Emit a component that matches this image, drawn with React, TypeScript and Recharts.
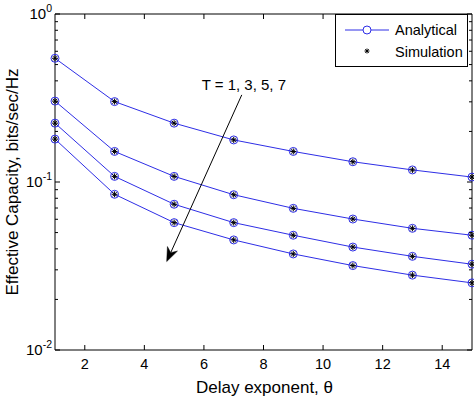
import React from 'react';
import {
  LineChart, Line, XAxis, YAxis, Legend, ReferenceLine, ReferenceDot,
} from 'recharts';

// ---- data ----
const THETA = [1, 3, 5, 7, 9, 11, 13, 15];
const ANALYTICAL_T1 = [0.545, 0.301, 0.224, 0.178, 0.152, 0.132, 0.118, 0.107];
const ANALYTICAL_T3 = [0.303, 0.152, 0.108, 0.084, 0.0697, 0.0602, 0.053, 0.0482];
const ANALYTICAL_T5 = [0.224, 0.108, 0.0737, 0.0573, 0.0482, 0.041, 0.0361, 0.0324];
const ANALYTICAL_T7 = [0.18, 0.0845, 0.0573, 0.0452, 0.0373, 0.0318, 0.0279, 0.0251];
const SIMULATION_T1 = [0.545, 0.301, 0.224, 0.178, 0.152, 0.132, 0.118, 0.107];
const SIMULATION_T3 = [0.303, 0.152, 0.108, 0.084, 0.0697, 0.0602, 0.053, 0.0482];
const SIMULATION_T5 = [0.224, 0.108, 0.0737, 0.0573, 0.0482, 0.041, 0.0361, 0.0324];
const SIMULATION_T7 = [0.18, 0.0845, 0.0573, 0.0452, 0.0373, 0.0318, 0.0279, 0.0251];

const X_TICKS = [2, 4, 6, 8, 10, 12, 14];
const Y_MAJOR = [0.01, 0.1, 1];
const Y_MAJOR_LABELS = ['-2', '-1', '0'];
const Y_MINOR = [0.02, 0.03, 0.04, 0.05, 0.06, 0.07, 0.08, 0.09, 0.2, 0.3, 0.4, 0.5, 0.6, 0.7, 0.8, 0.9];
const Y_TICKS = [...Y_MAJOR, ...Y_MINOR].sort((a, b) => a - b);

const ARROW = [{ x: 7.27, y: 0.33 }, { x: 4.75, y: 0.0336 }];
const ANNOTATION = { x: 7.34, y: 0.378, text: 'T = 1, 3, 5, 7' };

const data = THETA.map((t, i) => ({
  theta: t,
  a1: ANALYTICAL_T1[i], a3: ANALYTICAL_T3[i], a5: ANALYTICAL_T5[i], a7: ANALYTICAL_T7[i],
  s1: SIMULATION_T1[i], s3: SIMULATION_T3[i], s5: SIMULATION_T5[i], s7: SIMULATION_T7[i],
}));

const FONT = '"Liberation Sans", Arial, Helvetica, sans-serif';
const BLUE = '#2e2ee6';

const isMajor = (v: number) => Y_MAJOR.some((m) => Math.abs(m - v) < 1e-9);

const Asterisk = ({ cx, cy, r = 3 }: { cx: number; cy: number; r?: number }) => {
  const d = r * 0.7071;
  return (
    <g stroke="#000" strokeWidth={1}>
      <line x1={cx - r} y1={cy} x2={cx + r} y2={cy} />
      <line x1={cx} y1={cy - r} x2={cx} y2={cy + r} />
      <line x1={cx - d} y1={cy - d} x2={cx + d} y2={cy + d} />
      <line x1={cx - d} y1={cy + d} x2={cx + d} y2={cy - d} />
    </g>
  );
};

const circleDot = (p: any) => {
  if (p.cx == null || p.cy == null) return <g key={p.key} />;
  return <circle key={p.key} cx={p.cx} cy={p.cy} r={4} fill="none" stroke={BLUE} strokeWidth={1} />;
};
const starDot = (p: any) => {
  if (p.cx == null || p.cy == null) return <g key={p.key} />;
  return <g key={p.key}><Asterisk cx={p.cx} cy={p.cy} r={3} /></g>;
};

const LeftTick = (p: any) => {
  const { x, y, payload } = p;
  const major = isMajor(payload.value);
  const idx = Y_MAJOR.findIndex((m) => Math.abs(m - payload.value) < 1e-9);
  return (
    <g>
      <line x1={x} y1={y} x2={x + (major ? 5 : 3)} y2={y} stroke="#000" strokeWidth={1} />
      {major && (
        <text x={x - 3} y={y} dy="0.35em" textAnchor="end" fontFamily={FONT} fontSize={15} fill="#000">
          <tspan>10</tspan>
          <tspan dy={-7} fontSize={10.5}>{Y_MAJOR_LABELS[idx]}</tspan>
        </text>
      )}
    </g>
  );
};

const RightTick = (p: any) => {
  const { x, y, payload } = p;
  const major = isMajor(payload.value);
  return <line x1={x} y1={y} x2={x - (major ? 5 : 3)} y2={y} stroke="#000" strokeWidth={1} />;
};

const BottomTick = (p: any) => {
  const { x, y, payload } = p;
  return (
    <g>
      <line x1={x} y1={y} x2={x} y2={y - 5} stroke="#000" strokeWidth={1} />
      <text x={x} y={y + 19} textAnchor="middle" fontFamily={FONT} fontSize={14.5} fill="#000">
        {payload.value}
      </text>
    </g>
  );
};

const TopTick = (p: any) => {
  const { x, y } = p;
  return <line x1={x} y1={y} x2={x} y2={y + 5} stroke="#000" strokeWidth={1} />;
};

const YLabel = (p: any) => {
  const vb = p.viewBox || { x: 0, y: 14, width: 55, height: 336 };
  const cx = vb.x + 12;
  const cy = vb.y + vb.height / 2;
  return (
    <text x={cx} y={cy} dy="0.35em" textAnchor="middle" transform={`rotate(-90 ${cx} ${cy})`}
      fontFamily={FONT} fontSize={17} fill="#000">
      Effective Capacity, bits/sec/Hz
    </text>
  );
};

const XLabel = (p: any) => {
  const vb = p.viewBox || { x: 55, y: 350, width: 417, height: 49 };
  return (
    <text x={vb.x + vb.width / 2 + 1} y={vb.y + 43} textAnchor="middle" fontFamily={FONT} fontSize={17} fill="#000">
      Delay exponent, θ
    </text>
  );
};

const ArrowShape = (p: any) => {
  const x1 = p.x1 ?? p.points?.[0]?.x;
  const y1 = p.y1 ?? p.points?.[0]?.y;
  const x2 = p.x2 ?? p.points?.[1]?.x;
  const y2 = p.y2 ?? p.points?.[1]?.y;
  if ([x1, y1, x2, y2].some((v) => v == null || isNaN(v))) return <g />;
  const dx = x2 - x1, dy = y2 - y1;
  const len = Math.hypot(dx, dy);
  const ux = dx / len, uy = dy / len;
  const nx = -uy, ny = ux;
  const L = 14, W = 5.5;
  const bx = x2 - L * ux, by = y2 - L * uy;
  const mx = x2 - 0.7 * L * ux, my = y2 - 0.7 * L * uy;
  const pts = `${x2},${y2} ${bx + W * nx},${by + W * ny} ${mx},${my} ${bx - W * nx},${by - W * ny}`;
  return (
    <g>
      <line x1={x1} y1={y1} x2={mx} y2={my} stroke="#000" strokeWidth={1} />
      <polygon points={pts} fill="#000" stroke="#000" strokeWidth={0.5} />
    </g>
  );
};

const AnnotationShape = (p: any) => (
  <text x={p.cx} y={p.cy} dy="0.35em" textAnchor="middle" fontFamily={FONT} fontSize={15} fill="#000">
    {ANNOTATION.text}
  </text>
);

const LegendContent = () => (
  <svg width={133} height={54} style={{ display: 'block' }}>
    <rect x={0.5} y={0.5} width={132} height={52} fill="#fff" stroke="#000" strokeWidth={1} />
    <line x1={10} y1={16} x2={54} y2={16} stroke={BLUE} strokeWidth={1} />
    <circle cx={32} cy={16} r={4} fill="#fff" stroke={BLUE} strokeWidth={1} />
    <text x={60} y={16} dy="0.35em" fontFamily={FONT} fontSize={14.5} fill="#000">Analytical</text>
    <Asterisk cx={32} cy={37} r={2.5} />
    <text x={60} y={38} dy="0.35em" fontFamily={FONT} fontSize={14.5} fill="#000">Simulation</text>
  </svg>
);

const ANALYTICAL_KEYS = ['a1', 'a3', 'a5', 'a7'];
const SIMULATION_KEYS = ['s1', 's3', 's5', 's7'];

export default function App() {
  return (
    <div style={{ position: 'absolute', left: 0, top: 0, background: '#fff' }}>
      <LineChart width={474} height={399} data={data} margin={{ top: 13, right: 0, bottom: 0, left: 0 }}>
        <XAxis xAxisId="bottom" dataKey="theta" type="number" domain={[1, 15]} ticks={X_TICKS}
          orientation="bottom" height={49} tickSize={0} tickMargin={0} tickLine={false}
          axisLine={{ stroke: '#000' }} tick={BottomTick} interval={0} label={XLabel} />
        <XAxis xAxisId="top" dataKey="theta" type="number" domain={[1, 15]} ticks={X_TICKS}
          orientation="top" height={1} tickSize={0} tickMargin={0} tickLine={false}
          axisLine={{ stroke: '#000' }} tick={TopTick} interval={0} />
        <YAxis yAxisId="left" scale="log" type="number" domain={[0.01, 1]} ticks={Y_TICKS}
          orientation="left" width={55} tickSize={0} tickMargin={0} tickLine={false}
          axisLine={{ stroke: '#000' }} tick={LeftTick} interval={0} allowDataOverflow label={YLabel} />
        <YAxis yAxisId="right" scale="log" type="number" domain={[0.01, 1]} ticks={Y_TICKS}
          orientation="right" width={2} tickSize={0} tickMargin={0} tickLine={false}
          axisLine={{ stroke: '#000' }} tick={RightTick} interval={0} allowDataOverflow />
        {ANALYTICAL_KEYS.map((k) => (
          <Line key={k} xAxisId="bottom" yAxisId="left" dataKey={k} stroke={BLUE} strokeWidth={1}
            dot={circleDot} activeDot={false} isAnimationActive={false} type="linear" />
        ))}
        {SIMULATION_KEYS.map((k) => (
          <Line key={k} xAxisId="bottom" yAxisId="left" dataKey={k} stroke="none"
            dot={starDot} activeDot={false} isAnimationActive={false} type="linear" />
        ))}
        <ReferenceLine xAxisId="bottom" yAxisId="left" segment={ARROW} shape={ArrowShape} ifOverflow="visible" />
        <ReferenceDot xAxisId="bottom" yAxisId="left" x={ANNOTATION.x} y={ANNOTATION.y} r={0}
          shape={AnnotationShape} ifOverflow="visible" />
        <Legend layout="vertical" align="center" verticalAlign="middle" content={LegendContent}
          wrapperStyle={{ position: 'absolute', left: 335, top: 14, width: 133, height: 54 }} />
      </LineChart>
    </div>
  );
}
